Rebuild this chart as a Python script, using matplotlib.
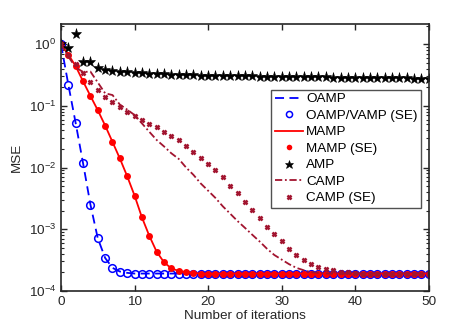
import numpy as np
import matplotlib.pyplot as plt
from matplotlib.ticker import LogLocator, NullFormatter

plt.rcParams['font.family'] = ['Liberation Sans', 'DejaVu Sans']
plt.rcParams['mathtext.fontset'] = 'custom'
plt.rcParams['mathtext.rm'] = 'Liberation Sans'

iters = np.arange(0, 51)

# OAMP (simulation) and OAMP/VAMP state evolution
oamp_sim = [1.0, 0.22, 0.052, 0.0117, 0.0025, 7.1e-4, 3.4e-4, 2.35e-4, 2.05e-4, 1.95e-4,
            1.9e-4, 1.9e-4, 1.9e-4, 1.9e-4, 1.9e-4, 1.9e-4, 1.9e-4, 1.9e-4, 1.9e-4, 1.9e-4,
            1.9e-4, 1.9e-4, 1.9e-4, 1.9e-4, 1.9e-4, 1.9e-4, 1.9e-4, 1.9e-4, 1.9e-4, 1.9e-4,
            1.9e-4, 1.9e-4, 1.9e-4, 1.9e-4, 1.9e-4, 1.9e-4, 1.9e-4, 1.9e-4, 1.9e-4, 1.9e-4,
            1.9e-4, 1.9e-4, 1.9e-4, 1.9e-4, 1.9e-4, 1.9e-4, 1.9e-4, 1.9e-4, 1.9e-4, 1.9e-4,
            1.9e-4]
oamp_se = [1.0, 0.22, 0.052, 0.0117, 0.0025, 7.1e-4, 3.4e-4, 2.35e-4, 2.05e-4, 1.95e-4,
           1.9e-4, 1.9e-4, 1.9e-4, 1.9e-4, 1.9e-4, 1.9e-4, 1.9e-4, 1.9e-4, 1.9e-4, 1.9e-4,
           1.9e-4, 1.9e-4, 1.9e-4, 1.9e-4, 1.9e-4, 1.9e-4, 1.9e-4, 1.9e-4, 1.9e-4, 1.9e-4,
           1.9e-4, 1.9e-4, 1.9e-4, 1.9e-4, 1.9e-4, 1.9e-4, 1.9e-4, 1.9e-4, 1.9e-4, 1.9e-4,
           1.9e-4, 1.9e-4, 1.9e-4, 1.9e-4, 1.9e-4, 1.9e-4, 1.9e-4, 1.9e-4, 1.9e-4, 1.9e-4,
           1.9e-4]

# MAMP
mamp_sim = [1.0, 0.68, 0.44, 0.25, 0.145, 0.085, 0.048, 0.026, 0.014, 0.0072,
            0.0035, 0.00155, 7.8e-4, 4.3e-4, 2.9e-4, 2.3e-4, 2.1e-4, 2.0e-4, 1.95e-4, 1.9e-4,
            1.9e-4, 1.9e-4, 1.9e-4, 1.9e-4, 1.9e-4, 1.9e-4, 1.9e-4, 1.9e-4, 1.9e-4, 1.9e-4,
            1.9e-4, 1.9e-4, 1.9e-4, 1.9e-4, 1.9e-4, 1.9e-4, 1.9e-4, 1.9e-4, 1.9e-4, 1.9e-4,
            1.9e-4, 1.9e-4, 1.9e-4, 1.9e-4, 1.9e-4, 1.9e-4, 1.9e-4, 1.9e-4, 1.9e-4, 1.9e-4,
            1.9e-4]
mamp_se = [1.0, 0.68, 0.44, 0.25, 0.145, 0.085, 0.048, 0.026, 0.014, 0.0072,
           0.0035, 0.00155, 7.8e-4, 4.3e-4, 2.9e-4, 2.3e-4, 2.1e-4, 2.0e-4, 1.95e-4, 1.9e-4,
           1.9e-4, 1.9e-4, 1.9e-4, 1.9e-4, 1.9e-4, 1.9e-4, 1.9e-4, 1.9e-4, 1.9e-4, 1.9e-4,
           1.9e-4, 1.9e-4, 1.9e-4, 1.9e-4, 1.9e-4, 1.9e-4, 1.9e-4, 1.9e-4, 1.9e-4, 1.9e-4,
           1.9e-4, 1.9e-4, 1.9e-4, 1.9e-4, 1.9e-4, 1.9e-4, 1.9e-4, 1.9e-4, 1.9e-4, 1.9e-4,
           1.9e-4]

# AMP
amp = [1.0, 0.88, 1.48, 0.51, 0.51, 0.41, 0.38, 0.37, 0.36, 0.35,
       0.345, 0.34, 0.335, 0.33, 0.325, 0.32, 0.318, 0.315, 0.313, 0.31,
       0.308, 0.306, 0.305, 0.304, 0.303, 0.301, 0.3, 0.299, 0.298, 0.297,
       0.295, 0.294, 0.293, 0.292, 0.291, 0.29, 0.289, 0.288, 0.287, 0.286,
       0.285, 0.284, 0.283, 0.283, 0.282, 0.281, 0.28, 0.279, 0.278, 0.278,
       0.277]

# CAMP
camp_sim = [1.0, 0.63, 0.42, 0.355, 0.36, 0.24, 0.16, 0.15, 0.105, 0.087,
            0.071, 0.052, 0.038, 0.028, 0.022, 0.017, 0.0138, 0.010, 0.0076, 0.0055,
            0.0042, 0.0032, 0.00234, 0.00178, 0.00135, 0.00105, 8.1e-4, 6.3e-4, 4.8e-4, 3.8e-4,
            3.2e-4, 2.7e-4, 2.35e-4, 2.15e-4, 2.0e-4, 1.95e-4, 1.9e-4, 1.9e-4, 1.9e-4, 1.9e-4,
            1.9e-4, 1.9e-4, 1.9e-4, 1.9e-4, 1.9e-4, 1.9e-4, 1.9e-4, 1.9e-4, 1.9e-4, 1.9e-4,
            1.9e-4]
camp_se = [1.0, 0.68, 0.47, 0.34, 0.24, 0.18, 0.14, 0.115, 0.095, 0.08,
           0.068, 0.06, 0.05, 0.045, 0.038, 0.032, 0.0275, 0.022, 0.018, 0.014,
           0.0115, 0.0091, 0.0069, 0.0051, 0.0038, 0.0028, 0.00204, 0.00151, 0.0011, 8.3e-4,
           6.3e-4, 4.8e-4, 3.8e-4, 3.2e-4, 2.7e-4, 2.45e-4, 2.25e-4, 2.15e-4, 2.05e-4, 2.0e-4,
           1.95e-4, 1.9e-4, 1.9e-4, 1.9e-4, 1.9e-4, 1.9e-4, 1.9e-4, 1.9e-4, 1.9e-4, 1.9e-4,
           1.9e-4]

camp_col = '#A2142F'
fs = 9.7

fig = plt.figure(figsize=(4.74, 3.30), dpi=100)
ax = fig.add_axes([0.1287, 0.119, 0.776, 0.807])

ax.plot(iters, oamp_sim, '--', color='#0000ff', lw=1.3, dashes=(5, 3), label='OAMP')
ax.plot(iters, oamp_se, 'o', color='#0000ff', mfc='none', ms=5.5, mew=1.1, label='OAMP/VAMP (SE)')
ax.plot(iters, mamp_sim, '-', color='#ff0000', lw=1.3, label='MAMP')
ax.plot(iters, mamp_se, 'o', color='#ff0000', ms=5, mew=0, label='MAMP (SE)')
ax.plot(iters, amp, '*', color='black', ms=8, mew=0.4, label='AMP')
ax.plot(iters, camp_sim, '-.', color=camp_col, lw=1.3, dashes=(4, 1.5, 1, 1.5), label='CAMP')
ax.plot(iters, camp_se, 'x', color=camp_col, ms=3.5, mew=1.8, label='CAMP (SE)')

ax.set_yscale('log')
ax.set_xlim(0, 50)
ax.set_ylim(1e-4, 2.1)
ax.set_xticks([0, 10, 20, 30, 40, 50])
ax.yaxis.set_major_locator(LogLocator(base=10, numticks=10))
ax.yaxis.set_minor_locator(LogLocator(base=10, subs=np.arange(2, 10), numticks=10))
ax.yaxis.set_minor_formatter(NullFormatter())

ax.tick_params(which='both', direction='in', top=True, right=True, colors='#262626',
               labelsize=fs, labelcolor='#262626')
ax.tick_params(which='major', length=4, width=1)
ax.tick_params(which='minor', length=2, width=0.8)
for s in ax.spines.values():
    s.set_color('#262626')
    s.set_linewidth(1.2)

ax.set_xlabel('Number of iterations', fontsize=fs, color='#262626', labelpad=2)
ax.set_ylabel('MSE', fontsize=fs, color='#262626', labelpad=4)

leg = ax.legend(loc='upper right', bbox_to_anchor=(0.979, 0.755), fontsize=fs,
                frameon=True, fancybox=False, handlelength=2.1, handletextpad=0.25,
                labelspacing=0.3, borderpad=0.25, borderaxespad=0, markerscale=0.8)
leg.get_frame().set_edgecolor('#262626')
leg.get_frame().set_linewidth(1.0)

fig.savefig('out.png', dpi=100)
